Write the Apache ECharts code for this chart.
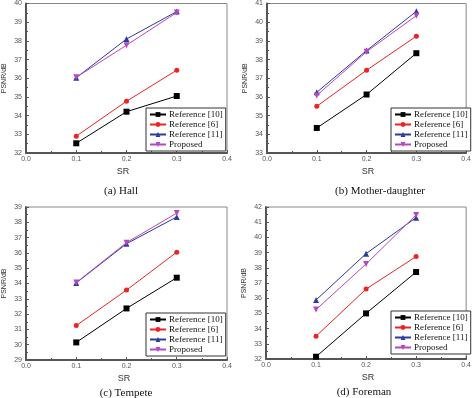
<!DOCTYPE html>
<html><head><meta charset="utf-8">
<script src="https://cdn.jsdelivr.net/npm/echarts@6/dist/echarts.min.js"></script>
<style>html,body{margin:0;padding:0;background:#fff}#c{width:474px;height:398px}</style>
</head><body><div id="c"></div>
<script>
const sr = [0.1, 0.2, 0.3];
const seriesNames = ['Reference [10]', 'Reference [6]', 'Reference [11]', 'Proposed'];
const panelTitles = ['(a) Hall', '(b) Mother-daughter', '(c) Tempete', '(d) Foreman'];
const yMins = [32, 33, 29, 32];
const yMaxs = [40, 41, 39, 42];
// Hall
const hallRef10 = [32.52, 34.21, 35.05];
const hallRef6 = [32.9, 34.77, 36.43];
const hallRef11 = [36.03, 38.1, 39.57];
const hallProp = [36.05, 37.77, 39.52];
// Mother-daughter
const mdRef10 = [34.34, 36.13, 38.34];
const mdRef6 = [35.5, 37.43, 39.25];
const mdRef11 = [36.25, 38.48, 40.58];
const mdProp = [36.08, 38.42, 40.35];
// Tempete
const tpRef10 = [30.15, 32.37, 34.38];
const tpRef6 = [31.25, 33.57, 36.05];
const tpRef11 = [34.04, 36.6, 38.35];
const tpProp = [34.06, 36.67, 38.6];
// Foreman
const fmRef10 = [32.15, 35.0, 37.72];
const fmRef6 = [33.5, 36.6, 38.74];
const fmRef11 = [35.88, 38.93, 41.3];
const fmProp = [35.25, 38.25, 41.48];

const panelData = [
  [hallRef10, hallRef6, hallRef11, hallProp],
  [mdRef10, mdRef6, mdRef11, mdProp],
  [tpRef10, tpRef6, tpRef11, tpProp],
  [fmRef10, fmRef6, fmRef11, fmProp]
];

const colors = ['#000000', '#ee2222', '#2c3a9e', '#b548c0'];
const symbols = ['rect', 'circle', 'triangle', 'path://M0,0 L10,0 L5,9 Z'];

const grids = [
  {left: 22, top: 2, width: 205, height: 151},
  {left: 267, top: 2, width: 201, height: 151},
  {left: 22, top: 207, width: 205, height: 153},
  {left: 266, top: 207, width: 202, height: 152}
];
const legendPos = [
  {left: 146, top: 108, width: 73},
  {left: 391, top: 108, width: 75},
  {left: 146, top: 313, width: 73},
  {left: 391, top: 311, width: 75}
];
const titlePos = [[121, 186], [380, 186], [126, 388], [364, 387]];
const srPos = [[123, 167], [368, 167], [124, 374], [368, 373]];

const labelColor = '#555';
const option = {
  animation: false,
  backgroundColor: '#fff',
  grid: grids.map(g => Object.assign({show: true, borderColor: '#888', borderWidth: 1, containLabel: false}, g)),
  xAxis: grids.map((g, i) => ({
    gridIndex: i, type: 'value', min: 0, max: 0.4, interval: 0.1,
    axisLine: {show: true, onZero: false, lineStyle: {color: '#555', width: 2}},
    axisTick: {show: true, inside: true, length: 3, lineStyle: {color: '#555'}},
    minorTick: {show: true, splitNumber: 2, length: 2, lineStyle: {color: '#555'}},
    splitLine: {show: false},
    axisLabel: {fontSize: 7, color: labelColor, margin: 3, fontFamily: 'Liberation Sans', formatter: v => v.toFixed(1)}
  })),
  yAxis: grids.map((g, i) => ({
    gridIndex: i, type: 'value', min: yMins[i], max: yMaxs[i], interval: 1,
    name: 'PSNR/dB', nameLocation: 'middle', nameRotate: 90, nameGap: 18,
    nameTextStyle: {fontSize: 7, color: '#333', fontFamily: 'Liberation Sans'},
    axisLine: {show: true, onZero: false, lineStyle: {color: '#555', width: 2}},
    axisTick: {show: true, inside: true, length: 3, lineStyle: {color: '#555'}},
    minorTick: {show: true, splitNumber: 2, length: 2, lineStyle: {color: '#555'}},
    splitLine: {show: false},
    axisLabel: {fontSize: 7, color: labelColor, margin: 4, fontFamily: 'Liberation Sans'}
  })),
  legend: legendPos.map((p, i) => ({
    left: p.left, top: p.top, width: p.width,
    orient: 'vertical', itemWidth: 16, itemHeight: 6, itemGap: 1,
    padding: [2, 3, 2, 3], borderColor: '#333', borderWidth: 1, backgroundColor: '#fff',
    textStyle: {fontSize: 9, fontFamily: 'Liberation Serif', color: '#111', padding: [0, 0, 0, -2]},
    data: seriesNames
  })),
  title: panelTitles.map((t, i) => ({
    text: t, left: titlePos[i][0], top: titlePos[i][1], textAlign: 'center', padding: 0,
    textStyle: {fontSize: 11, fontWeight: 'normal', fontFamily: 'Liberation Serif', color: '#111'}
  })).concat(srPos.map(p => ({
    text: 'SR', left: p[0], top: p[1], textAlign: 'center', padding: 0,
    textStyle: {fontSize: 9, fontWeight: 'normal', fontFamily: 'Liberation Sans', color: '#333'}
  }))),
  series: []
};

panelData.forEach((arr, gi) => {
  arr.forEach((vals, si) => {
    option.series.push({
      name: seriesNames[si], type: 'line', xAxisIndex: gi, yAxisIndex: gi,
      data: sr.map((x, k) => [x, vals[k]]),
      symbol: symbols[si], symbolSize: si === 1 ? 5 : 6,
      showSymbol: true,
      lineStyle: {color: colors[si], width: 1},
      itemStyle: {color: colors[si]},
      z: 2 + si
    });
  });
});

const chart = echarts.init(document.getElementById('c'), null, {renderer: 'canvas'});
chart.setOption(option);
</script></body></html>
